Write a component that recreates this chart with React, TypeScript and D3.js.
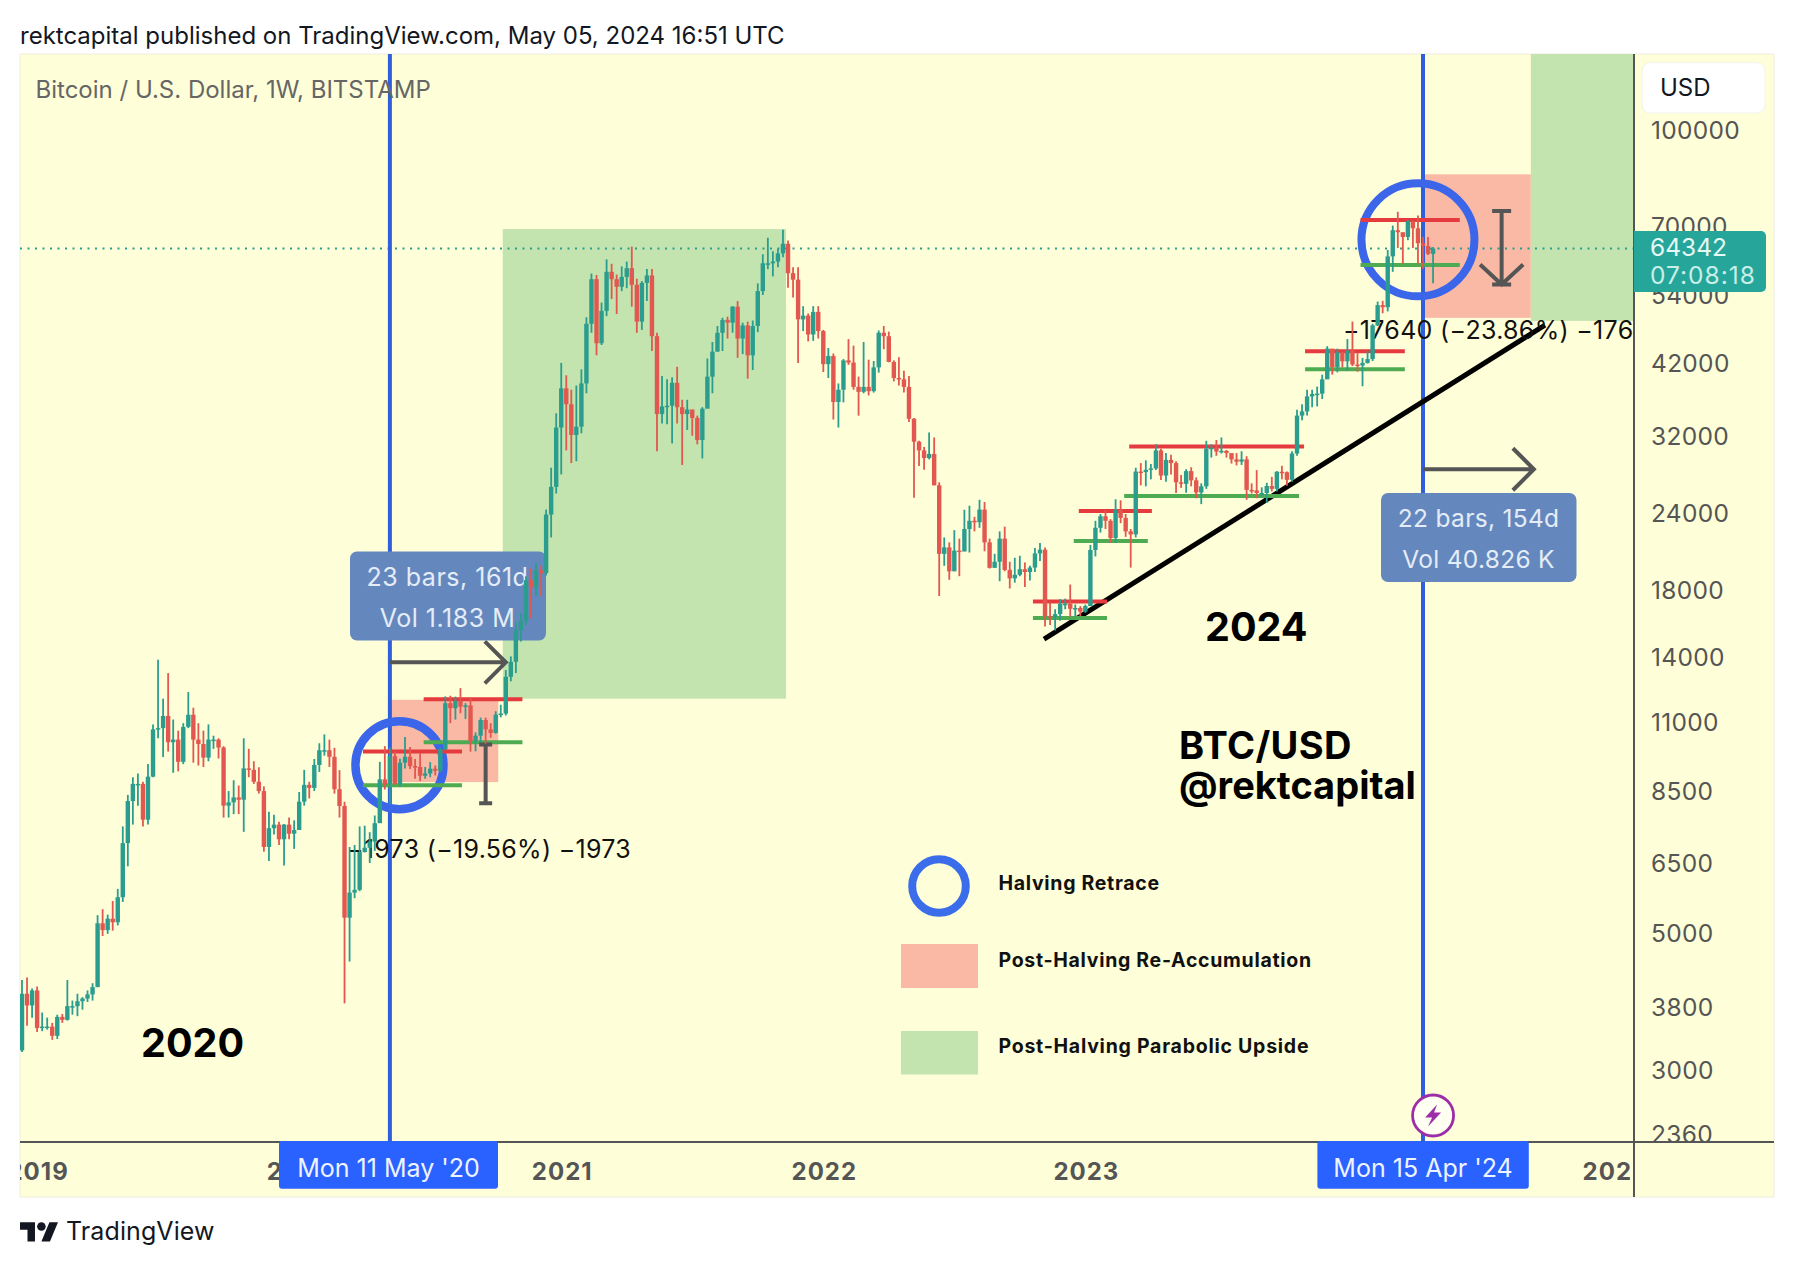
import React from "react";
import * as d3 from "d3";

const FONT = "Inter, Roboto, sans-serif";
const firstOpen = 3230;
const weekClose = [
  3990,3820,4040,3510,3530,3530,3410,3660,3620,3810,
  3810,3880,3920,3980,4090,5190,5060,5280,5210,5720,
  7000,8190,8730,8730,7640,8970,10700,10750,11250,10200,
  10300,9480,10800,11300,10300,10130,9630,10300,10300,10000,
  8050,8150,8300,8230,9250,9200,8800,8500,6900,7400,
  7500,7100,7500,7250,7350,8170,8700,8600,9370,9900,
  9900,9660,8560,8040,5300,5820,5880,6770,6880,7040,
  7540,8880,8720,9680,8730,9450,9660,9330,9300,9000,
  9080,9240,9170,9930,11800,11580,11900,11650,11700,10250,
  10450,11080,10700,10560,11300,11350,13020,13770,15480,16050,
  18670,18180,19370,19170,23850,26450,33000,38200,36000,32100,
  33100,38900,48600,57400,45200,51000,59000,57400,55800,57900,
  59800,56200,49000,56600,58200,46400,34700,35700,35800,39000,
  35600,34700,35300,34200,31500,35400,39900,43800,47000,49300,
  48800,51800,46000,48300,43200,48200,54900,60900,60900,61300,
  63200,65500,58700,57300,49400,50100,46700,50800,47300,41800,
  43100,36300,38000,42400,42050,38400,37700,38400,37800,41300,
  47000,46400,42150,39700,39500,38400,34100,31300,30300,29450,
  29900,26600,20600,21100,19300,20850,20780,22600,23300,23180,
  24300,21500,19550,20000,21800,19400,18800,19050,19450,19250,
  19570,20630,20920,16330,16280,16450,17100,17100,16780,16830,
  16600,16950,20900,22700,23700,23300,21850,24300,23550,22400,
  22150,28000,27950,28180,28330,30300,27590,29250,28900,26900,
  26750,28050,27100,25900,26500,30500,30600,30170,30250,30000,
  29300,29050,29300,26150,26100,25850,25850,26530,26250,27980,
  27930,27150,29950,34500,35050,37060,37400,37450,39500,44300,
  41350,43700,42250,43950,41750,41600,42000,42600,48300,52100,
  51700,62500,68900,68400,67200,71300,69400,65650,64950,63100,64342,
];
const weekHigh = [
  4200,4240,4070,4100,3720,3650,3580,3690,3700,4200,
  3890,3990,3940,4040,4150,5350,5470,5360,5640,5900,
  7450,8380,8950,9080,8800,9400,10900,13880,12000,13200,
  11100,10650,10950,12300,11600,10950,10650,10900,10450,10350,
  10050,8500,8850,8680,10350,9950,9500,9290,8650,7870,
  7780,7580,7520,7700,7620,8470,9200,8800,9580,10160,
  10500,10300,9990,9190,8170,6900,6950,7450,7470,7290,
  7760,9480,10050,10000,9860,9590,10400,10020,9580,9800,
  9300,9470,9350,9990,12100,12130,12090,12480,11800,12050,
  10580,11180,11180,10950,11450,11730,13350,14050,15950,16500,
  18950,19500,19900,19700,24300,28400,34800,42000,40100,38000,
  38600,41000,49800,58600,58300,52600,61800,60800,58400,60200,
  61300,64800,57500,57000,59600,59600,47000,40000,39500,39800,
  41400,36600,36600,35100,34500,35600,42700,45400,48200,49700,
  49900,51900,52900,48800,49000,49200,56500,63000,67000,63700,
  64300,69000,66300,60000,60000,51900,50500,51900,51900,47500,
  44400,43500,38900,42600,45900,44800,39900,45400,42500,42300,
  47400,48200,47200,42400,42900,40800,40000,34200,31400,30700,
  32400,31800,26900,21900,21500,22500,21800,24280,24650,23650,
  25200,25000,21800,20600,22400,22800,20000,20300,20450,19950,
  19700,21050,21450,21100,17200,16750,17400,17430,18370,17050,
  16950,17040,21300,23300,23900,24250,23450,25250,25150,23900,
  22600,28400,28900,29200,28800,31000,30500,30000,29800,29100,
  27650,28250,28450,27400,26800,31400,31000,31500,31800,30350,
  29700,30000,30200,29650,26800,28150,26400,26850,27450,28050,
  28600,28000,30200,35250,36000,38000,38000,38450,40200,44700,
  44000,44300,43800,45900,49000,43550,42800,43900,48600,52800,
  52950,64000,70100,73800,68100,71600,71300,72800,67200,67200,64700,
];
const weekLow = [
  3210,3540,3650,3460,3470,3490,3360,3370,3580,3610,
  3690,3670,3760,3870,3890,4090,4950,4990,5050,5150,
  5620,6420,7500,8050,7450,7500,8950,10350,9650,9850,
  9100,9150,9400,10750,9450,9350,9300,9500,9950,9600,
  7700,7700,7800,7800,7300,8950,8730,8420,6780,6550,
  7230,6950,6440,7100,6850,7350,8050,8270,8500,9130,
  9700,9300,8420,7700,3850,4500,5700,5850,6760,6500,
  6800,7600,8550,8100,8700,8640,9250,9230,8900,8820,
  8900,8950,9010,9130,9900,10950,11100,11360,11120,9850,
  9860,10200,10140,10370,10530,11190,11270,12800,13200,14850,
  15800,16200,17600,17600,19000,21900,25800,27700,30300,28900,
  29100,32300,37500,47000,43200,44900,50000,53300,50400,54900,
  55500,51800,47000,47500,52900,43900,30200,33500,33400,31100,
  33500,28700,32700,32000,31000,29400,37000,37500,43800,43900,
  46000,47000,42800,43400,39600,40900,47100,54100,59600,58000,
  60000,62300,55600,53600,42000,47300,45500,45600,46000,40600,
  39700,34000,33000,36250,41700,38000,34500,37500,37200,37600,
  40500,44200,42100,39200,38600,37600,33700,25400,28600,28200,
  29300,26600,17600,19700,18700,19300,18950,20800,20700,22400,
  22700,20800,19500,19550,18600,19300,18100,18500,18950,18200,
  18650,19250,20050,15700,15800,15480,16050,16750,16300,16300,
  16330,16530,17160,20400,22300,22600,21450,21450,23100,21950,
  19570,21900,26600,26500,27200,28170,27130,26950,27700,25850,
  26350,25870,26500,25350,24800,26250,29500,29700,29950,29500,
  28850,28650,28700,25200,25800,25350,25500,24900,26000,26000,
  27200,26550,26950,29700,33900,34500,35600,35700,36700,39900,
  40200,40550,41300,40750,41500,40650,38500,41900,42300,48200,
  50550,50900,59000,64500,60800,66400,64500,60700,59600,62800,56550,
];
const priceTicks = [100000,70000,54000,42000,32000,24000,18000,14000,11000,8500,6500,5000,3800,3000,2360];
const yearLabels = ["2019","2020","2021","2022","2023","2025"];
const yearWeeks = [3,55,107,159,211,316];
const lastPrice = 64342;
const halvingWeeks = [73,278];
// [fromWeek,toWeek,priceTop,priceBottom]
const reaccumRects = [[73.1,94.5,11950,8790],[278.2,299.4,84880,49690]];
const paraRects = [[95.4,151.6,69200,12000],[299.4,330,140000,49130]];
// [fromWeek,toWeek,price]
const redLevels = [[67.66,87.3,9853],[79.7,99.3,11978],[200.6,215.3,17250],[209.7,224.2,24170],[219.7,254.4,30740],[254.6,274.4,43880],[265.6,285.3,71560]];
const greenLevels = [[67.66,87.3,8686],[79.7,99.3,10200],[200.6,215.3,16207],[208.7,223.4,21610],[218.7,253.4,25560],[254.6,274.4,41030],[265.6,285.3,60500]];
const trendLine = [[202.8,14980],[302.2,48350]];
const retraceCircles = [[74.9,9360],[277,66490]];

const xS = d3.scaleLinear().domain([0,278]).range([22,1423]);
const yS = d3.scaleLog().domain([100000,2360]).range([130.4,1134.5]);
const UP = "#2a9d8f", DOWN = "#e2574f", GREY = "#555555", BLUE = "#2f5fdc";
const SALMON = "#f9b9a4", PARA = "#c3e4ae", BOX = "#6488bd", BG = "#fefed8";

function Arrow({d}:{d:string}){return <path d={d} fill="none" stroke={GREY} strokeWidth={4} strokeLinecap="butt"/>;}

export default function App(){
  const left=20,right=1774,top=54,bottom=1197,axisX=1634,axisY=1142;
  const opens = weekClose.map((_,i)=> i===0?firstOpen:weekClose[i-1]);
  const a1x=xS(92), a1t=yS(10110), a1b=yS(8120);
  const a2x=xS(293.6), a2t=yS(74010), a2b=yS(56290);
  const h1y=yS(13740), h1a=xS(73), h1b=xS(96);
  const h2y=yS(28240), h2a=xS(278), h2b=xS(300);
  return (
  <div style={{position:"absolute",left:0,top:0,width:1794,height:1266,background:"#fff"}}>
  <svg width={1794} height={1266} style={{display:"block",fontFamily:FONT}}>
    <defs>
      <clipPath id="plot"><rect x={left} y={top} width={axisX-left} height={axisY-top}/></clipPath>
      <clipPath id="bottomAxis"><rect x={left} y={axisY} width={axisX-left} height={bottom-axisY}/></clipPath>
      <clipPath id="priceAxis"><rect x={axisX} y={top} width={right-axisX} height={axisY-top}/></clipPath>
    </defs>
    <rect width={1794} height={1266} fill="#fff"/>
    <text x={20} y={44} fontSize={24} fill="#131722">rektcapital published on TradingView.com, May 05, 2024 16:51 UTC</text>
    <rect x={left} y={top} width={right-left} height={bottom-top} fill={BG} stroke="#eeeedd" strokeWidth={1}/>
    <g clipPath="url(#plot)">
      {reaccumRects.map((r,i)=><rect key={i} x={xS(r[0])} width={xS(r[1])-xS(r[0])} y={yS(r[2])} height={yS(r[3])-yS(r[2])} fill={SALMON}/>)}
      {paraRects.map((r,i)=><rect key={i} x={xS(r[0])} width={xS(r[1])-xS(r[0])} y={yS(r[2])} height={yS(r[3])-yS(r[2])} fill={PARA}/>)}
      <line x1={left} x2={axisX} y1={yS(lastPrice)} y2={yS(lastPrice)} stroke={UP} strokeWidth={2} strokeDasharray="2 5.5"/>
      {halvingWeeks.map((w,i)=><line key={i} x1={xS(w)} x2={xS(w)} y1={top} y2={axisY} stroke={BLUE} strokeWidth={4}/>)}
      <path d={d3.line()(trendLine.map(p=>[xS(p[0]),yS(p[1])]) as [number,number][]) as string} stroke="#000" strokeWidth={5} fill="none"/>
      {retraceCircles.map((c,i)=><circle key={i} cx={xS(c[0])} cy={yS(c[1])} r={i===0?44:56.5} fill="none" stroke="#3b66ea" strokeWidth={i===0?8.5:8}/>)}
      {redLevels.map((l,i)=><line key={i} x1={xS(l[0])} x2={xS(l[1])} y1={yS(l[2])} y2={yS(l[2])} stroke="#e53a3e" strokeWidth={4}/>)}
      {greenLevels.map((l,i)=><line key={i} x1={xS(l[0])} x2={xS(l[1])} y1={yS(l[2])} y2={yS(l[2])} stroke="#4fab52" strokeWidth={4}/>)}
      <Arrow d={`M${a1x},${a1t}V${a1b}M${a1x-6.5},${a1t}H${a1x+6.5}M${a1x-6.5},${a1b}H${a1x+6.5}`}/>
      <Arrow d={`M${a2x},${a2t}V${a2b}M${a2x-9.5},${a2t}H${a2x+9.5}M${a2x-9.5},${a2b}H${a2x+9.5}M${a2x-21.5},${a2b-20}L${a2x},${a2b}L${a2x+21.5},${a2b-20}`}/>
      <Arrow d={`M${h1a},${h1y}H${h1b}M${h1b-21},${h1y-21}L${h1b},${h1y}L${h1b-21},${h1y+21}`}/>
      <Arrow d={`M${h2a},${h2y}H${h2b}M${h2b-21},${h2y-21}L${h2b},${h2y}L${h2b-21},${h2y+21}`}/>
      <text x={347} y={858} fontSize={25} letterSpacing={0.3} fill="#111">−1973 (−19.56%) −1973</text>
      <text x={1343} y={339} fontSize={25} letterSpacing={0.3} fill="#111">−17640 (−23.86%) −17640</text>
      <rect x={350} y={551.5} width={196} height={89} rx={7} fill={BOX}/>
      <text x={447.5} y={586} textAnchor="middle" fontSize={25} letterSpacing={0.5} fill="#e4ecf7">23 bars, 161d</text>
      <text x={447.5} y={627} textAnchor="middle" fontSize={25} letterSpacing={0.5} fill="#e4ecf7">Vol 1.183 M</text>
      <rect x={1381} y={493} width={195.5} height={89} rx={7} fill={BOX}/>
      <text x={1478.6} y={527} textAnchor="middle" fontSize={24.5} letterSpacing={0.3} fill="#e4ecf7">22 bars, 154d</text>
      <text x={1478.6} y={568} textAnchor="middle" fontSize={24.5} letterSpacing={0.3} fill="#e4ecf7">Vol 40.826 K</text>
      <text x={141} y={1056.5} fontSize={39.5} fontWeight={700} fill="#000">2020</text>
      <text x={1205} y={641} fontSize={39.5} fontWeight={700} fill="#000">2024</text>
      <text x={1179} y={759} fontSize={38} letterSpacing={0.4} fontWeight={700} fill="#000">BTC/USD</text>
      <text x={1179} y={799} fontSize={38} fontWeight={700} fill="#000">@rektcapital</text>
      <circle cx={939} cy={886} r={26.8} fill="none" stroke="#3b6cea" strokeWidth={8}/>
      <text x={998.5} y={890} fontSize={19.5} letterSpacing={0.7} fontWeight={700} fill="#111">Halving Retrace</text>
      <rect x={901} y={944} width={77} height={44} fill={SALMON}/>
      <text x={998.5} y={966.7} fontSize={19.5} letterSpacing={0.7} fontWeight={700} fill="#111">Post-Halving Re-Accumulation</text>
      <rect x={901} y={1031} width={77} height={43.5} fill={PARA}/>
      <text x={998.5} y={1052.7} fontSize={19.5} letterSpacing={0.75} fontWeight={700} fill="#111">Post-Halving Parabolic Upside</text>
      <text x={35.5} y={98} fontSize={24} fill="#666">Bitcoin / U.S. Dollar, 1W, BITSTAMP</text>
      <g>
        {weekClose.map((c,i)=>{
          const o=opens[i], col=c>=o?UP:DOWN, x=xS(i);
          const yT=yS(Math.max(o,c)), yB=yS(Math.min(o,c));
          return <g key={i}>
            <line x1={x} x2={x} y1={yS(weekHigh[i])} y2={yS(weekLow[i])} stroke={col} strokeWidth={1.8}/>
            <rect x={x-2.2} width={4.4} y={yT} height={Math.max(yB-yT,1.5)} fill={col}/>
          </g>;
        })}
      </g>
      <circle cx={xS(280)} cy={1115.5} r={20.5} fill="#fffff2" stroke="#9c2fa8" strokeWidth={2.8}/>
      <path d={`M${xS(280)+4},${1104.5}L${xS(280)-8},${1117.5}H${xS(280)-1}L${xS(280)-5},${1126.5}L${xS(280)+8},${1112.5}H${xS(280)+1}Z`} fill="#9c2fa8"/>
    </g>
    <line x1={left} x2={right} y1={axisY} y2={axisY} stroke={GREY} strokeWidth={2}/>
    <line x1={axisX} x2={axisX} y1={top} y2={bottom} stroke={GREY} strokeWidth={2}/>
    <g clipPath="url(#priceAxis)">
      {priceTicks.map(p=><text key={p} x={1651} y={yS(p)+8.8} fontSize={24.5} letterSpacing={0.3} fill={GREY}>{p}</text>)}
    </g>
    <g clipPath="url(#bottomAxis)">
      {yearLabels.map((l,i)=><text key={l} x={xS(yearWeeks[i])+1} y={1179.5} textAnchor="middle" fontSize={24} letterSpacing={1} fontWeight={700} fill={GREY}>{l}</text>)}
    </g>
    <rect x={1642} y={62.7} width={123} height={50.3} rx={8} fill="#fff" stroke="#f3f3ea"/>
    <text x={1660} y={96} fontSize={24} fill="#131722">USD</text>
    <path d="M1634,231H1761a5,5 0 0 1 5,5V287a5,5 0 0 1 -5,5H1634Z" fill="#26a69a"/>
    <text x={1650} y={256} fontSize={24.5} fill="#e6f7f4">{lastPrice}</text>
    <text x={1650} y={284} fontSize={24.5} letterSpacing={1} fill="#c8eee8">07:08:18</text>
    <rect x={279} y={1141} width={219} height={47.7} rx={3} fill="#2962ff"/>
    <text x={388.5} y={1177} textAnchor="middle" fontSize={25} fill="#eef3ff">Mon 11 May '20</text>
    <rect x={1317.4} y={1141} width={211.4} height={47.7} rx={3} fill="#2962ff"/>
    <text x={1423} y={1177} textAnchor="middle" fontSize={25} fill="#eef3ff">Mon 15 Apr '24</text>
    <g transform="translate(20,1218) scale(1.07)" fill="#131722">
      <path d="M14 22H7V11H0V4h14v18zM28 22h-8l7.5-18h8L28 22z"/><circle cx="20" cy="8" r="4"/>
    </g>
    <text x={66} y={1240} fontSize={25} letterSpacing={0.1} fill="#131722">TradingView</text>
  </svg>
  </div>);
}
